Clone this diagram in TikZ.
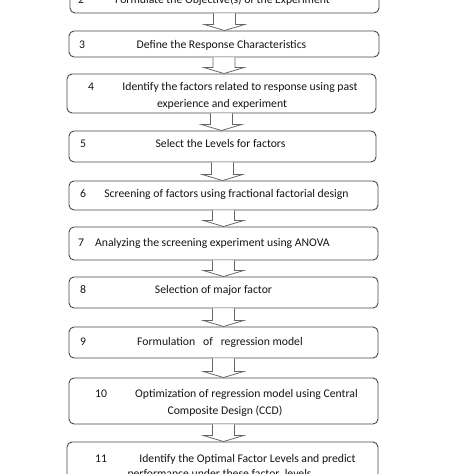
\documentclass[tikz,border=0pt]{standalone}
\usepackage{fontspec}
\setmainfont{Carlito}
\usetikzlibrary{calc}
\definecolor{boxline}{HTML}{484848}
\definecolor{arrline}{HTML}{666666}
\definecolor{txt}{HTML}{151515}
\tikzset{
  stepbox/.style={draw=boxline, line width=0.9pt, rounded corners=5pt, fill=white, inner sep=0pt},
  lbl/.style={font=\fontsize{11.7}{14}\selectfont, text=txt, inner sep=0pt, anchor=base},
  num/.style={font=\fontsize{11.7}{14}\selectfont, text=txt, inner sep=0pt, anchor=base west},
  blk/.style={draw=arrline, line width=0.8pt, fill=white, line join=miter}
}
\newcommand\blkarrow[2]{%
  \draw[blk] let \p1=(#1.south), \p2=(#2.north) in
    ($(\x1-11pt,\y1)$) -- (\x1-11pt,\y2+6pt) -- (\x1-20pt,\y2+6pt) -- (\x1,\y2)
    -- (\x1+20pt,\y2+6pt) -- (\x1+11pt,\y2+6pt) -- (\x1+11pt,\y1);}
\begin{document}
\begin{tikzpicture}[x=1pt,y=-1pt]
\useasboundingbox (0,0) rectangle (474,474);
\clip (0,0) rectangle (474,474);
\fill[white] (0,0) rectangle (474,474);
% boxes
\node[stepbox, minimum width=309pt, minimum height=28pt] (b2) at (224.5,-1) {};
\node[stepbox, minimum width=310pt, minimum height=26pt] (b3) at (224,44) {};
\node[stepbox, minimum width=309pt, minimum height=39pt] (b4) at (221.5,93.5) {};
\node[stepbox, minimum width=307pt, minimum height=31pt] (b5) at (222.5,146.5) {};
\node[stepbox, minimum width=309pt, minimum height=29pt] (b6) at (223.5,195.5) {};
\node[stepbox, minimum width=309pt, minimum height=33pt] (b7) at (223.5,243.5) {};
\node[stepbox, minimum width=309pt, minimum height=31pt] (b8) at (223.5,292.5) {};
\node[stepbox, minimum width=309pt, minimum height=31pt] (b9) at (223.5,342.5) {};
\node[stepbox, minimum width=309pt, minimum height=46pt] (b10) at (223.5,401) {};
\node[stepbox, minimum width=311pt, minimum height=48pt] (b11) at (222.5,466) {};
% arrows
\blkarrow{b2}{b3}
\blkarrow{b3}{b4}
\blkarrow{b4}{b5}
\blkarrow{b5}{b6}
\blkarrow{b6}{b7}
\blkarrow{b7}{b8}
\blkarrow{b8}{b9}
\blkarrow{b9}{b10}
\blkarrow{b10}{b11}
% texts
\node[num] (n2) at (78,3) {2};
\node[lbl] (t2) at (222.5,3) {Formulate the Objective(s) of the Experiment};
\node[num] (n3) at (79,48) {3};
\node[lbl] (t3) at (221.5,48) {Define the Response Characteristics};
\node[num] (n4) at (88,90) {4};
\node[lbl] (t4a) at (240,90) {Identify the factors related to response using past};
\node[lbl] (t4b) at (222,107) {experience and experiment};
\node[num] (n5) at (80,147) {5};
\node[lbl] (t5) at (220.5,147) {Select the Levels for factors};
\node[num] (n6) at (80,197) {6};
\node[lbl] (t6) at (226.5,197) {Screening of factors using fractional factorial design};
\node[num] (n7) at (78,246) {7};
\node[lbl, anchor=base west] (t7) at (95,246) {Analyzing the screening experiment using ANOVA};
\node[num] (n8) at (80,293) {8};
\node[lbl] (t8) at (213.5,293) {Selection of major factor};
\node[num] (n9) at (80,345) {9};
\node[lbl] (t9) at (220,345) {Formulation\ \ \ of\ \ \ regression model};
\node[num] (n10) at (95,397) {10};
\node[lbl] (t10a) at (246.5,397) {Optimization of regression model using Central};
\node[lbl] (t10b) at (225,414) {Composite Design (CCD)};
\node[num] (n11) at (95,462) {11};
\node[lbl] (t11a) at (247.5,462) {Identify the Optimal Factor Levels and predict};
\node[lbl] (t11b) at (219.5,477) {performance under these factor\ \ levels};
\end{tikzpicture}
\end{document}
